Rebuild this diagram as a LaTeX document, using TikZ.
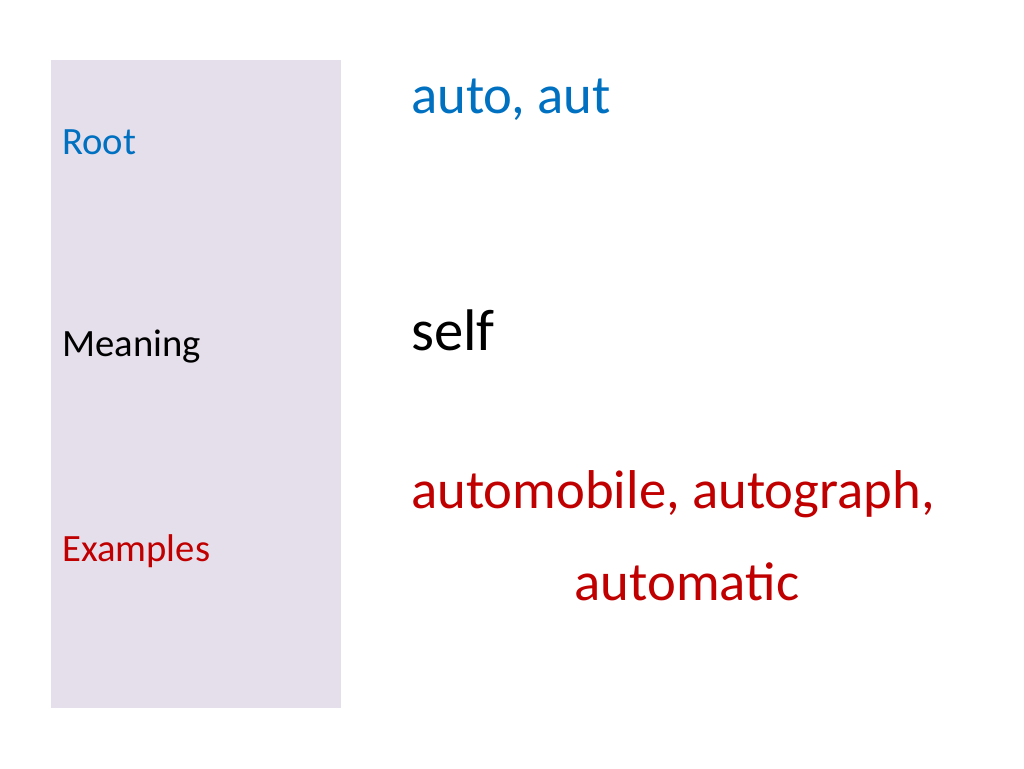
\documentclass[tikz,border=0pt]{standalone}
\usepackage{fontspec}
\setmainfont{Carlito}
\definecolor{pan}{HTML}{E5DEEB}
\definecolor{rblue}{HTML}{0070C0}
\definecolor{rred}{HTML}{C00000}
\begin{document}
\begin{tikzpicture}[x=0.75pt,y=-0.75pt,
  lab/.style={anchor=west,inner sep=0pt,font=\fontsize{29}{34}\selectfont},
  big/.style={anchor=west,inner sep=0pt,font=\fontsize{41}{48}\selectfont}]
\useasboundingbox (0,0) rectangle (1024,768);
\fill[pan] (51,60) rectangle (341,708);
\node[lab,text=rblue] (root) at (62,142) {Root};
\node[lab] (mean) at (62,347) {Meaning};
\node[lab,text=rred] (ex) at (62,551) {Examples};
\node[big,text=rblue] (auto) at (411,100) {auto, aut};
\node[big,font=\fontsize{44}{50}\selectfont] (self) at (411,330) {self};
\node[big,text=rred] (ex1) at (411,494) {automobile, autograph,};
\node[big,text=rred,anchor=center] (ex2) at (687,582) {automatic};
\end{tikzpicture}
\end{document}
